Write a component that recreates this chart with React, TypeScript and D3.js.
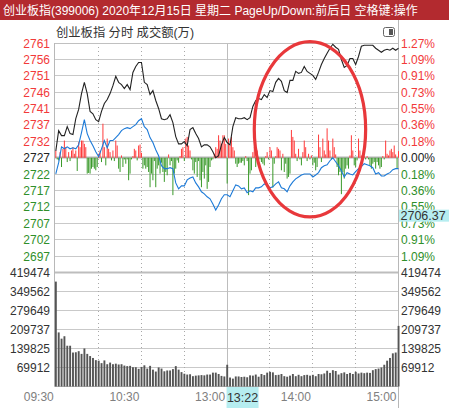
import React from "react";
import * as d3 from "d3";

const TITLE = "创业板指(399006) 2020年12月15日 星期二 PageUp/Down:前后日 空格键:操作";
const HEADER = "创业板指  分时 成交额(万)";
const PREV_CLOSE = 2727.2;
const STEP = 4.955;
const VOL_MAX = 419474;

const priceLabels = ["2761","2756","2751","2746","2741","2737","2732","2727","2722","2717","2712","2707","2702","2697"];
const pctLabels = ["1.27%","1.09%","0.91%","0.73%","0.55%","0.36%","0.18%","0.00%","0.18%","0.36%","0.55%","0.73%","0.91%","1.09%"];
const volLabels = ["419474","349562","279649","209737","139825","69912"];
const timeTicks = [0, 60, 120, 180, 240];
const timeTickLabels = ["09:30","10:30","13:00","14:00","15:00"];
const dottedMinutes = [30, 60, 90, 150, 180, 210];
const solidMinutes = [120];

// price every 2 minutes (121 points)
const price = [
  2729.3, 2735.4, 2733.9, 2733.9, 2736.6, 2734.5, 2734.2, 2739.0, 2741.8, 2746.6,
  2750.0, 2746.6, 2741.2, 2740.5, 2738.7, 2738.1, 2741.2, 2743.6, 2744.8, 2746.6,
  2749.0, 2751.8, 2750.0, 2749.3, 2748.1, 2749.3, 2747.8, 2753.0, 2754.8, 2756.0,
  2756.0, 2750.0, 2749.3, 2746.3, 2747.5, 2744.5, 2742.1, 2739.0, 2738.7, 2739.0,
  2740.2, 2737.8, 2733.6, 2731.4, 2731.4, 2732.1, 2730.8, 2735.7, 2736.3, 2734.5,
  2733.0, 2730.5, 2731.1, 2731.1, 2730.5, 2729.0, 2727.2, 2727.8, 2731.1, 2733.3,
  2731.8, 2731.1, 2736.6, 2739.3, 2739.0, 2739.0, 2739.3, 2738.7, 2739.3, 2742.7,
  2744.5, 2745.1, 2744.8, 2746.3, 2745.4, 2747.5, 2747.2, 2750.0, 2751.2, 2750.3,
  2747.5, 2746.9, 2750.6, 2750.6, 2753.3, 2752.7, 2753.0, 2754.8, 2753.3, 2752.7,
  2752.1, 2750.9, 2753.0, 2755.4, 2757.2, 2758.8, 2760.3, 2761.5, 2760.6, 2760.0,
  2756.9, 2754.5, 2755.1, 2757.2, 2757.2, 2755.4, 2757.8, 2760.9, 2761.2, 2761.2,
  2761.2, 2761.2, 2760.3, 2759.7, 2759.1, 2759.7, 2760.0, 2759.7, 2760.3, 2759.7,
  2760.3
];

// blue lead line every 2 minutes (121 points)
const lead = [
  2722.3, 2725.7, 2730.5, 2729.9, 2730.5, 2729.9, 2730.2, 2729.9, 2731.1, 2734.8,
  2738.7, 2734.5, 2732.4, 2730.8, 2729.0, 2727.5, 2729.9, 2732.4, 2730.2, 2732.4,
  2732.4, 2733.3, 2734.2, 2735.4, 2736.0, 2736.3, 2736.0, 2736.6, 2737.2, 2738.4,
  2739.0, 2736.6, 2735.7, 2733.3, 2731.8, 2729.6, 2727.8, 2724.8, 2723.9, 2723.9,
  2724.2, 2723.9, 2719.6, 2717.8, 2718.7, 2718.7, 2720.5, 2721.1, 2721.4, 2719.6,
  2718.4, 2716.9, 2716.3, 2715.4, 2714.8, 2713.2, 2711.4, 2712.9, 2714.8, 2716.0,
  2716.0, 2715.4, 2717.2, 2719.0, 2718.7, 2717.8, 2718.1, 2716.6, 2717.2, 2716.9,
  2718.1, 2718.1, 2718.4, 2719.3, 2719.0, 2718.1, 2718.4, 2719.3, 2719.9, 2718.1,
  2717.8, 2716.9, 2718.7, 2719.9, 2720.8, 2721.4, 2722.0, 2722.3, 2722.3, 2722.3,
  2721.4, 2722.0, 2722.7, 2724.2, 2724.8, 2725.1, 2726.3, 2727.2, 2726.0, 2724.8,
  2723.3, 2721.4, 2722.7, 2722.3, 2722.0, 2723.0, 2723.9, 2724.5, 2725.4, 2725.1,
  2724.8, 2724.2, 2722.3, 2722.7, 2721.7, 2721.7, 2722.3, 2722.7, 2723.6, 2723.9,
  2723.9
];

// red/green strength bars, one per minute (241), in index points
const rgBars = [
  2.2, -0.5, -0.8, 1.7, -2.8, 2.7, 5.2, 3.2, -1.3, 1.7,
  -1.0, 2.2, 3.2, 1.2, 2.2, -4.0, 4.7, 3.2, 5.2, 5.2,
  4.2, 3.2, -4.8, -4.6, -4.8, -3.3, -2.8, -3.3, -3.8, -2.8,
  1.2, 2.2, -1.3, 10.3, 3.2, -2.3, 5.8, 2.7, 1.7, -0.8,
  2.2, -1.0, 5.2, 3.7, -3.3, -4.3, 0.7, -2.8, -0.5, -1.8,
  -0.5, -6.8, -4.8, -0.5, 0.5, 2.7, 2.2, -0.8, 3.7, 4.0,
  1.5, -3.3, -2.3, -3.3, -2.8, -4.3, -8.9, -4.8, -6.8, -1.0,
  -8.9, -3.3, -2.3, -4.8, -1.5, -4.3, -7.3, -4.3, -5.3, 1.0,
  -2.3, -1.0, -11.3, -4.8, -3.3, -0.8, -1.5, 0.5, 2.7, 3.2,
  -1.0, 5.8, 6.3, 3.7, 2.2, -0.5, -3.8, -4.8, -1.3, -5.8,
  -1.0, -6.8, -8.9, -4.3, -6.3, -2.3, -9.4, -7.3, -2.8, -0.8,
  -0.5, 1.2, 3.2, 2.7, 6.8, 5.2, 4.2, 6.8, 6.8, 4.2,
  -7.8, 5.8, 3.7, 6.3, 3.2, 2.2, -1.8, -2.8, -1.8, -1.5,
  -1.5, -1.0, -2.3, 0.5, -1.0, -11.3, -4.8, -3.8, 1.7, 3.2,
  -2.8, 2.2, -0.5, -0.5, -1.3, -1.8, -2.3, 0.5, 1.7, -0.5,
  3.2, 2.2, -9.0, -1.8, 0.5, 3.2, 2.7, 2.2, -3.8, 1.2,
  -4.3, -1.8, -6.3, -5.8, -4.8, 8.4, 6.3, 5.2, 1.2, -1.0,
  2.7, -0.5, -2.3, 1.7, 5.2, 3.2, -1.0, 1.2, -0.5, 0.7,
  -2.3, -1.5, -3.8, -2.8, 7.0, 3.2, -1.3, 5.8, 2.2, 1.0,
  8.9, 5.2, 2.2, -0.5, 5.8, 3.2, 1.0, -2.8, -5.3, -4.3,
  -11.0, -4.3, -6.3, -3.3, -2.3, -3.3, 0.7, 6.8, 2.2, -2.3,
  -2.8, -0.8, 5.8, 2.2, 0.7, -0.5, 0.5, -0.5, 0.5, -0.5,
  -2.3, -3.3, -1.8, -1.3, -3.3, -1.3, -2.3, -3.3, -2.8, 0.5,
  -0.5, 5.2, 1.2, 0.7, 2.2, 2.7, 1.7, 3.7, 1.0, -3.3,
  2.0
];

// turnover (万) every 2 minutes (121 bars)
const volume = [
  386000, 199000, 176000, 185000, 150000, 150000, 125000, 126000, 130000, 120000,
  140000, 120000, 112000, 105000, 97000, 95000, 86000, 96000, 82000, 88000,
  82000, 84000, 81000, 82000, 77000, 75000, 76000, 71000, 71000, 65000,
  72000, 78000, 66000, 76000, 62000, 55000, 70000, 66000, 56000, 59000,
  59000, 64000, 75000, 62000, 53000, 47000, 44000, 45000, 38000, 40000,
  41000, 42000, 41000, 44000, 44000, 51000, 51000, 46000, 39000, 37000,
  80000, 33000, 29000, 37000, 37000, 35000, 36000, 34000, 41000, 40000,
  44000, 36000, 46000, 42000, 51000, 54000, 52000, 42000, 43000, 46000,
  38000, 36000, 40000, 46000, 38000, 43000, 38000, 42000, 43000, 40000,
  43000, 38000, 46000, 45000, 48000, 58000, 50000, 60000, 57000, 44000,
  49000, 52000, 46000, 50000, 46000, 54000, 48000, 51000, 49000, 51000,
  50000, 60000, 64000, 66000, 70000, 80000, 95000, 105000, 122000, 125000,
  223000
];

const cursorMinute = 142;
const cursorTime = "13:22";
const cursorPrice = 2706.37;

// highlighted region (minutes / index points)
const ringMinutes = [139, 217];
const ringPrices = [2709.3, 2762.3];

const FONT = "'Liberation Sans', Arial, 'Noto Sans CJK SC', sans-serif";
const RED = "#f23a3a";
const GREEN = "#2f8f2a";

export default function App() {
  const W = 449, H = 408;
  const pTop = 43, pBottom = 272.5, vBottom = 386.5;
  const left = 54.5, right = 398.5;

  const x = d3.scaleLinear().domain([0, 240]).range([55.8, 398.5]);
  const y = d3.scaleLinear()
    .domain([PREV_CLOSE - 7 * STEP, PREV_CLOSE + 7 * STEP])
    .range([pBottom, pTop]);
  const yv = d3.scaleLinear().domain([0, VOL_MAX]).range([vBottom, pBottom]);
  const snap = (v: number) => Math.round(v - 0.5) + 0.5;

  const line = d3.line<number>().x((_, i) => x(i * 2)).y((d) => y(d));
  const zeroY = y(PREV_CLOSE);

  const priceTicks = priceLabels.map((_, j) => PREV_CLOSE + (7 - j) * STEP);
  const volTicks = volLabels.map((_, j) => VOL_MAX - (j * VOL_MAX) / 6);

  const cx = (x(ringMinutes[0]) + x(ringMinutes[1])) / 2;
  const rx = (x(ringMinutes[1]) - x(ringMinutes[0])) / 2;
  const cy = (y(ringPrices[0]) + y(ringPrices[1])) / 2;
  const ry = (y(ringPrices[0]) - y(ringPrices[1])) / 2;

  const curX = x(cursorMinute);
  const curY = y(cursorPrice);

  return (
    <svg width={W} height={H} style={{ position: "absolute", left: 0, top: 0, background: "#fff" }} fontFamily={FONT}>
      <rect x={0} y={0} width={W} height={H} fill="#ffffff" />
      {/* title bar */}
      <rect x={0} y={0} width={W} height={20} fill="#b32a2f" />
      <text x={3} y={15} fontSize={12} fill="#ffffff">{TITLE}</text>
      {/* header */}
      <text x={56} y={37} fontSize={12.3} fill="#333">{HEADER}</text>
      <rect x={383.5} y={27.5} width={11} height={9} rx={2} fill="#fff" stroke="#666" />
      <rect x={389} y={29} width={4} height={6} fill="#555" />

      {/* horizontal price grid */}
      {priceTicks.map((p, j) => (
        <line key={"pg" + j} x1={left} x2={right} y1={snap(y(p))} y2={snap(y(p))}
          stroke={j === 7 ? "#b4b4b4" : "#c9c9c9"} strokeWidth={j === 7 ? 2 : 1} />
      ))}
      {/* volume grid */}
      {volTicks.map((v, j) => (
        <line key={"vg" + j} x1={left} x2={right} y1={snap(yv(v))} y2={snap(yv(v))}
          stroke={j === 0 ? "#bdbdbd" : "#c9c9c9"} strokeWidth={j === 0 ? 2 : 1} />
      ))}
      {/* vertical grid */}
      {dottedMinutes.map((m) => (
        <line key={"dv" + m} x1={snap(x(m))} x2={snap(x(m))} y1={pTop} y2={vBottom}
          stroke="#a8a8a8" strokeDasharray="1,3" />
      ))}
      {solidMinutes.map((m) => (
        <line key={"sv" + m} x1={snap(x(m))} x2={snap(x(m))} y1={pTop} y2={vBottom} stroke="#bdbdbd" />
      ))}
      {/* borders */}
      <line x1={left} x2={right} y1={pTop + 0.5} y2={pTop + 0.5} stroke="#c0c0c0" />
      <line x1={left} x2={left} y1={pTop} y2={vBottom} stroke="#b8b8b8" />
      <line x1={right} x2={right} y1={20} y2={H} stroke="#b8b8b8" />
      <line x1={left} x2={right} y1={vBottom} y2={vBottom} stroke="#b8b8b8" />

      {/* red / green bars */}
      {rgBars.map((v, i) => (
        <rect key={"rg" + i} x={x(i) - 0.5} width={1}
          y={v >= 0 ? y(PREV_CLOSE + v) : zeroY}
          height={Math.abs(y(PREV_CLOSE + v) - zeroY)}
          fill={v >= 0 ? "#ff3b3b" : "#3a9a2a"} />
      ))}

      {/* lines */}
      <path d={line(lead) || ""} fill="none" stroke="#1c7ad8" strokeWidth={1.1} />
      <path d={line(price) || ""} fill="none" stroke="#222" strokeWidth={1.1} />

      {/* volume bars */}
      {volume.map((v, k) => (
        <rect key={"v" + k} x={x(k * 2) - 0.9} width={1.9} y={yv(v)} height={vBottom - yv(v)} fill="#555" />
      ))}

      {/* left price labels */}
      {priceTicks.map((p, j) => (
        <text key={"pl" + j} x={50} y={y(p) + 4.5} fontSize={12} textAnchor="end"
          fill={j < 7 ? RED : j === 7 ? "#222" : GREEN}>{priceLabels[j]}</text>
      ))}
      {/* right pct labels */}
      {priceTicks.map((p, j) => (
        <text key={"rl" + j} x={401} y={y(p) + 4.5} fontSize={12}
          fill={j < 7 ? RED : j === 7 ? "#222" : GREEN}>{pctLabels[j]}</text>
      ))}
      {/* volume labels */}
      {volTicks.map((v, j) => (
        <g key={"vl" + j}>
          <text x={50} y={yv(v) + 4.5} fontSize={12} textAnchor="end" fill="#333">{volLabels[j]}</text>
          <text x={401} y={yv(v) + 4.5} fontSize={12} fill="#333">{volLabels[j]}</text>
        </g>
      ))}
      {/* time labels */}
      {timeTicks.map((m, j) => (
        <text key={"t" + j} x={x(m) - 2} y={401} fontSize={12} textAnchor="end" fill="#808080">{timeTickLabels[j]}</text>
      ))}

      {/* cursor boxes */}
      <rect x={curX - 32} y={vBottom + 0.5} width={32} height={H - vBottom} fill="#b6edf0" />
      <text x={curX - 16} y={401.5} fontSize={12.5} textAnchor="middle" fill="#333">{cursorTime}</text>
      <rect x={399} y={curY - 17} width={50} height={12} fill="#b6edf0" />
      <text x={400.5} y={curY - 6.5} fontSize={12.5} fill="#333">{cursorPrice.toFixed(2)}</text>

      {/* annotation ring */}
      <ellipse cx={cx} cy={cy} rx={rx} ry={ry} fill="none" stroke="#e8383b" strokeWidth={3.2} />
    </svg>
  );
}
